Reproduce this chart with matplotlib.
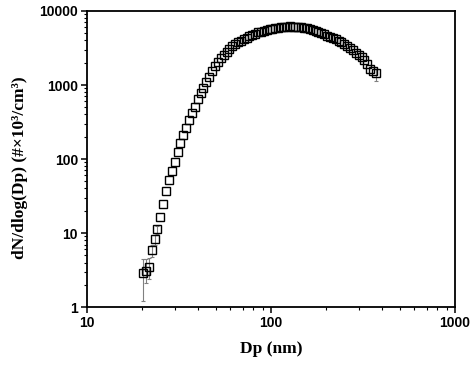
import matplotlib
matplotlib.use("Agg")
import matplotlib.pyplot as plt
from matplotlib.ticker import LogLocator, NullFormatter, FixedLocator

# particle size channels (nm)
dp = [20.2, 20.9, 21.7, 22.5, 23.3, 24.1, 25.0, 25.9, 26.9, 27.9, 28.9, 30.0,
      31.1, 32.2, 33.4, 34.6, 35.9, 37.2, 38.5, 40.0, 41.4, 42.9, 44.5, 46.1,
      47.8, 49.6, 51.4, 53.3, 55.2, 57.3, 59.4, 61.5, 63.8, 66.1, 68.5, 71.0,
      73.7, 76.4, 79.1, 82.0, 85.1, 88.2, 91.4, 94.7, 98.2, 101.8, 105.5, 109.4,
      113.4, 117.6, 121.9, 126.3, 131.0, 135.8, 140.7, 145.9, 151.2, 156.8,
      162.5, 168.5, 174.7, 181.1, 187.7, 194.6, 201.7, 209.1, 216.7, 224.7,
      232.9, 241.4, 250.3, 259.5, 269.0, 278.8, 289.0, 299.6, 310.6, 322.0,
      333.8, 346.0, 358.7, 371.8]

# dN/dlog(Dp), x10^3 /cm3
conc = [2.85, 3.1, 3.5, 5.9, 8.2, 11.2, 16.5, 25, 37, 52, 68, 92,
        123, 163, 210, 265, 340, 420, 510, 640, 770, 920, 1100, 1300,
        1540, 1800, 2050, 2300, 2550, 2820, 3100, 3330, 3560, 3770, 3960, 4160,
        4350, 4550, 4780, 4960, 5130, 5270, 5400, 5530, 5650, 5760, 5870, 5970,
        6060, 6130, 6170, 6180, 6160, 6120, 6070, 6000, 5920,
        5800, 5680, 5520, 5350, 5180, 5000, 4830, 4660, 4500, 4330, 4150,
        3960, 3770, 3580, 3380, 3170, 2960, 2740, 2530, 2370, 2200,
        1950, 1620, 1550, 1450]

# visible error bars
err_dp = [20.2, 20.9, 21.7, 22.5, 23.3, 24.1, 371.8]
err_y = [2.85, 3.1, 3.5, 5.9, 8.2, 11.2, 1450]
err_lo = [1.65, 1.0, 1.1, 1.2, 1.4, 1.5, 300]
err_hi = [1.6, 1.3, 1.1, 1.0, 1.2, 1.4, 200]

fig = plt.figure(figsize=(4.74, 3.66), dpi=100)
ax = fig.add_axes([0.1835, 0.161, 0.7765, 0.809])

ax.errorbar(err_dp, err_y, yerr=[err_lo, err_hi], fmt="none",
            ecolor="#808080", elinewidth=0.8, capsize=1.5, capthick=0.8, zorder=1)
ax.plot(dp, conc, linestyle="none", marker="s", markersize=5.9,
        markerfacecolor="none", markeredgecolor="black", markeredgewidth=1.0, zorder=2)

ax.set_xscale("log")
ax.set_yscale("log")
ax.set_xlim(10, 1000)
ax.set_ylim(1, 10000)

ax.xaxis.set_major_locator(FixedLocator([10, 100, 1000]))
ax.yaxis.set_major_locator(FixedLocator([1, 10, 100, 1000, 10000]))
ax.set_xticklabels(["10", "100", "1000"])
ax.set_yticklabels(["1", "10", "100", "1000", "10000"])
ax.xaxis.set_minor_locator(LogLocator(base=10, subs=range(2, 10)))
ax.yaxis.set_minor_locator(LogLocator(base=10, subs=range(2, 10)))
ax.xaxis.set_minor_formatter(NullFormatter())
ax.yaxis.set_minor_formatter(NullFormatter())

for lab in ax.get_xticklabels() + ax.get_yticklabels():
    lab.set_fontfamily("Liberation Sans")
    lab.set_fontweight("bold")
    lab.set_fontsize(10)

ax.tick_params(which="major", direction="out", length=4.5, width=1.1, pad=2)
ax.tick_params(which="minor", direction="out", length=2.5, width=0.8)
ax.tick_params(top=False, right=False, which="both")
for s in ax.spines.values():
    s.set_linewidth(1.3)

ax.set_xlabel("Dp (nm)", fontfamily="Liberation Serif", fontweight="bold",
              fontsize=12.5, labelpad=8)
ax.set_ylabel("dN/dlog(Dp) (#×10³/cm³)", fontfamily="Liberation Serif",
              fontweight="bold", fontsize=12.5)
ax.yaxis.set_label_coords(-0.16, 0.47)

fig.savefig("out.png", dpi=100)
